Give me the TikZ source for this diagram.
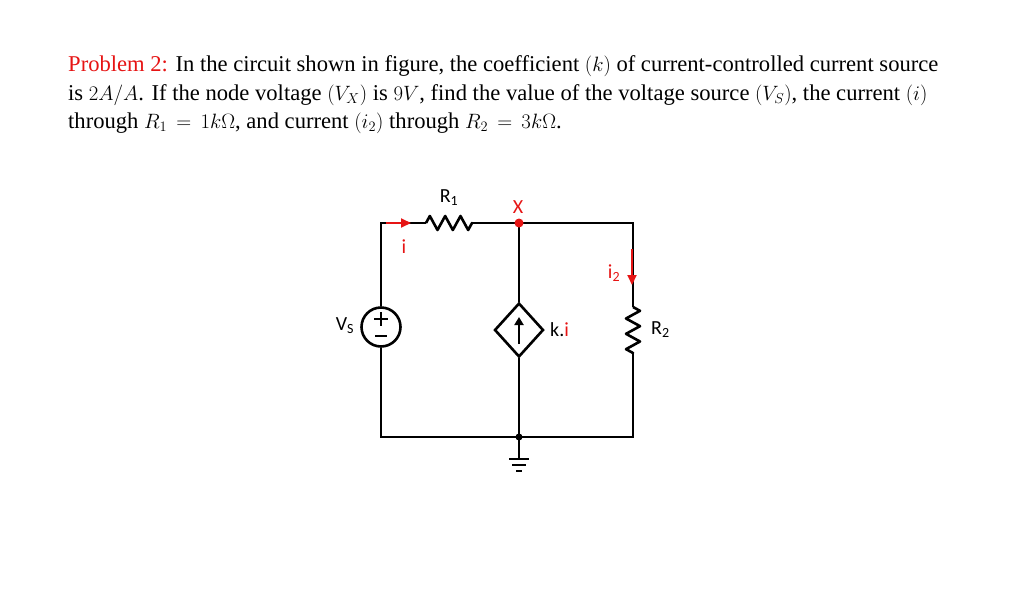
\documentclass[tikz,border=0pt]{standalone}
\usepackage{fontspec}
\setmainfont{Liberation Serif}
\newfontfamily\calfont{Carlito}
\usetikzlibrary{decorations.pathmorphing,arrows.meta,shapes.geometric}
\definecolor{myred}{RGB}{230,20,20}
\begin{document}
\begin{tikzpicture}[x=1pt,y=-1pt,
  wire/.style={line width=2.6pt,black},
  res/.style={line width=2.6pt,line join=round,decorate,decoration={zigzag,segment length=15.333pt,amplitude=7pt}},
  lbl/.style={font=\calfont\fontsize{20}{20}\selectfont,inner sep=0pt},
  txt/.style={anchor=west,inner sep=0pt,font=\fontsize{22.6}{22.6}\selectfont},
  rarr/.style={myred,line width=2pt,-{Triangle[length=10pt,width=9pt]}}]
\useasboundingbox (0,0) rectangle (1024,589);
\node[txt] (l1) at (68,66) {\textcolor{myred}{Problem 2:} In the circuit shown in figure, the coefficient $(k)$ of current-controlled current source};
\node[txt] (l2) at (68,95) {is $2A/A$. If the node voltage $(V_X)$ is $9V$, find the value of the voltage source $(V_S)$, the current $(i)$};
\node[txt] (l3) at (68,123) {through $R_1\,=\,1k\Omega$, and current $(i_2)$ through $R_2\,=\,3k\Omega$.};
% nodes
\coordinate (tl) at (381,223);
\coordinate (tm) at (519,223);
\coordinate (tr) at (633,223);
\coordinate (bl) at (381,437);
\coordinate (bm) at (519,437);
\coordinate (br) at (633,437);
\node[circle,draw,line width=2.6pt,minimum size=39pt,inner sep=0pt] (vs) at (381,327) {};
\node[diamond,draw,line width=2.6pt,minimum width=49pt,minimum height=54pt,inner sep=0pt] (cs) at (519,330) {};
\coordinate (r1a) at (426,223); \coordinate (r1b) at (472,223);
\coordinate (r2a) at (633,307); \coordinate (r2b) at (633,353);
\draw[wire] (vs.north) -- (tl) -- (r1a);
\draw[res] (r1a) -- (r1b);
\draw[wire] (r1b) -- (tr) -- (r2a);
\draw[res] (r2a) -- (r2b);
\draw[wire] (r2b) -- (br) -- (bl) -- (vs.south);
\draw[wire] (tm) -- (cs.north);
\draw[wire] (cs.south) -- (bm);
\coordinate (g) at (519,458);
\draw[wire] (bm) -- (g);
\draw[wire] (509,459) -- (529,459);
\draw[wire] (512,465) -- (526,465);
\draw[wire] (516,471) -- (522,471);
\fill (bm) circle (3.5pt);
\fill[myred] (tm) circle (4.5pt);
% source signs
\draw[line width=2pt] (381,312) -- (381,326) (374,319) -- (388,319);
\draw[line width=2pt] (375,336) -- (387,336);
% dependent arrow
\draw[line width=2.4pt,-{Triangle[length=8pt,width=9pt]}] (519,344) -- (519,317);
% current arrows
\coordinate (ia) at (386,223); \coordinate (ib) at (411,223);
\draw[rarr] (ia) -- (ib);
\coordinate (i2a) at (632,249); \coordinate (i2b) at (632,285);
\draw[rarr] (i2a) -- (i2b);
% labels
\node[lbl] (lr1) at (449,198) {R\textsubscript{1}};
\node[lbl,myred] (lx) at (518,207) {X};
\node[lbl,myred] (li) at (404,247) {i};
\node[lbl,myred] (li2) at (614,273) {i\textsubscript{2}};
\node[lbl] (lvs) at (345,326) {V\textsubscript{S}};
\node[lbl,anchor=west] (lk) at (550,330) {k.\textcolor{myred}{i}};
\node[lbl,anchor=west] (lr2) at (651,330) {R\textsubscript{2}};
\end{tikzpicture}
\end{document}
